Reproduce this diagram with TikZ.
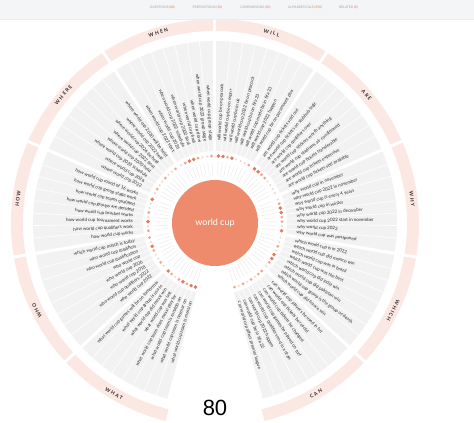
\documentclass[tikz,border=0pt]{standalone}
\usepackage{fontspec}
\setmainfont{Lato}
\newfontfamily\numfont{Liberation Sans}
\newfontfamily\labfont[LetterSpace=28]{Lato}
\definecolor{ringpink}{HTML}{FCE8E3}
\definecolor{wedgegray}{HTML}{F2F2F2}
\definecolor{hubcol}{HTML}{EE8B6C}
\definecolor{dotA}{HTML}{F8D3C7}
\definecolor{dotB}{HTML}{F1A690}
\definecolor{dotC}{HTML}{E57A5C}
\definecolor{qtext}{HTML}{2A2A2A}
\definecolor{hdrbg}{HTML}{F4F5F7}
\definecolor{hdrtext}{HTML}{A0A0A0}
\definecolor{hdrnum}{HTML}{E8795A}
\tikzset{
  qitem/.style={inner sep=0pt, font=\fontsize{4.5}{4.5}\selectfont, text=qtext},
  catlabel/.style={inner sep=0pt, font=\labfont\bfseries\fontsize{5}{5}\selectfont, text=qtext},
  hdritem/.style={inner sep=0pt, font=\fontsize{3.3}{3.3}\selectfont, text=hdrtext},
}
\begin{document}
\begin{tikzpicture}[x=1pt,y=1pt]
\useasboundingbox (-215,-200) rectangle (259,223);
\fill[white] (-215,-200) rectangle (259,223);
% outer pink ring
\fill[ringpink] (256:192) arc[start angle=256,end angle=-76,radius=192] -- (-76:204) arc[start angle=-76,end angle=256,radius=204] -- cycle;
% gray wedge area
\fill[wedgegray] (254.8:72) arc[start angle=254.8,end angle=-74.8,radius=72] -- (-74.8:182) arc[start angle=-74.8,end angle=254.8,radius=182] -- cycle;
% item separators
\foreach \n in {0,...,79}{
  \pgfmathtruncatemacro\c{\n/8}
  \pgfmathtruncatemacro\j{mod(\n,8)}
  \pgfmathsetmacro\ang{256-33.2*\c-2.95-3.9*\j}
  \pgfmathsetmacro\bnd{\ang+1.95}
  \ifnum\j>0 \draw[white,line width=0.6pt] (\bnd:72) -- (\bnd:182);\fi
  \draw[black!10,line width=0.3pt] (\ang:47) -- (\ang:61);
}
% category separators
\foreach \k in {1,...,9}{
  \pgfmathsetmacro\a{256-33.2*\k}
  \draw[white,line width=3pt] (\a:64) -- (\a:210);
}
% dots
\foreach \lv [count=\n from 0] in {3,3,2,3,2,1,2,3, 1,2,1,1,2,3,1,2, 2,1,3,1,2,1,1,3, 1,2,1,1,2,1,1,2, 1,2,3,3,2,1,1,2, 3,3,2,3,1,1,1,2, 3,3,2,2,1,1,1,1, 1,2,3,3,2,2,1,3, 1,1,2,1,3,3,2,1, 2,2,1,2,1,2,1,2}{
  \pgfmathtruncatemacro\c{\n/8}
  \pgfmathtruncatemacro\j{mod(\n,8)}
  \pgfmathsetmacro\ang{256-33.2*\c-2.95-3.9*\j}
  \pgfmathsetmacro\rad{0.75+0.4*\lv}
  \ifcase\lv\or \fill[dotA] (\ang:67) circle[radius=\rad];
  \or \fill[dotB] (\ang:67) circle[radius=\rad];
  \or \fill[dotC] (\ang:67) circle[radius=\rad];\fi
}
% question texts
\foreach \t [count=\n from 0] in {
 what world cup team is messi on, what world cup team is neymar on, what world cup team is ronaldo on, what world cup team does messi play for, what world cup was last, what world cup did messi win, what world cup group is usa in, what world cup games will be on tomorrow,
 who world cup 2022, who world cup qualifiers 2022, who world cup 2018, who world cup 2026, who world cup, who world cup qualification, who world cup qualifiers, which world cup match is today,
 how world cup works, how world cup qualifiers work, how world cup tournament works, how world cup bracket works, how world cup groups are decided, how world cup teams qualified, how world cup group stage work, how world cup round of 16 works,
 where world cup 2022, where world cup 2026, where world cup 2022 schedule, where world cup 2030 held, where world cup 2022 final, where world cup 2026 be held, where world cup 2022 held, where world cup 2030 will be held,
 when world cup 2022 start, when world cup 2026, when world cup 2022 schedule, when world cup 2022 final, when world cup final, when world cup draw, when world cup 2022 group stage, when world cup group stage,
 will world cup be on peacock, will world cup be on espn+, will world cup be in uk, will world cup 2022 be on peacock, will world cup be on fifa 23, will world cup mode be in fifa 23, will world cup 2022 happen, will world cup be on paramount plus,
 are world cup tickets sold out, are world cup tickets on stubhub legit, are world cup qualifiers over, are world cup stickers worth anything, are world cup stadiums air conditioned, are world cup tickets transferable, are world cup tickets expensive, are world cup tickets still available,
 why world cup in november, why world cup 2022 in november, why world cup is every 4 years, why world cup in winter, why world cup 2022 in december, why world cup 2022 start in november, why world cup 2022, why world cup was postponed,
 which world cup is in 2022, which world cup did mexico win, which world cup was in brazil, which world cup was the best, which world cup did india win, which world cup did pakistan win, which world cup group is the group of death, which world cup did france win,
 can world cup players be used in fut, can world cup tickets be resold, can world cup tickets be changed, can world cup games be played on turf, can world cup qualifiers end in a draw, can world cup 2022 happen, can world cup be in fifa 22, can world cup affect premier league}{
  \pgfmathtruncatemacro\c{\n/8}
  \pgfmathtruncatemacro\j{mod(\n,8)}
  \pgfmathsetmacro\ang{256-33.2*\c-2.95-3.9*\j}
  \ifdim\ang pt>90pt
    \pgfmathsetmacro\rot{\ang-180}
    \node[qitem, anchor=east, rotate=\rot] (q\n) at (\ang:82) {\t};
  \else
    \node[qitem, anchor=west, rotate=\ang] (q\n) at (\ang:82) {\t};
  \fi
}
% category labels
\foreach \lab [count=\k from 0] in {WHAT,WHO,HOW,WHERE,WHEN,WILL,ARE,WHY,WHICH,CAN}{
  \pgfmathsetmacro\mid{256-33.2*\k-16.6}
  \ifdim\mid pt>225pt
    \pgfmathsetmacro\rot{\mid+90}
  \else
    \ifdim\mid pt<-45pt
      \pgfmathsetmacro\rot{\mid+90}
    \else
      \pgfmathsetmacro\rot{\mid-90}
    \fi
  \fi
  \node[catlabel, rotate=\rot] (lab\k) at (\mid:198.5) {\lab};
}
% hub
\fill[hubcol] (0,0) circle[radius=43];
\node[inner sep=0pt, text=white, font=\fontsize{9}{9}\selectfont] (hub) at (0,0) {world cup};
% header bar
\fill[hdrbg] (-215,223) rectangle (259,204);
\draw[black!8,line width=0.4pt] (-215,204) -- (259,204);
\node[hdritem] (h1) at (-52.5,215.7) {QUESTIONS \textcolor{hdrnum}{(80)}};
\node[hdritem] (h2) at (-7.5,215.7) {PREPOSITIONS \textcolor{hdrnum}{(56)}};
\node[hdritem] (h3) at (40.5,215.7) {COMPARISONS \textcolor{hdrnum}{(40)}};
\node[hdritem] (h4) at (90,215.7) {ALPHABETICALS \textcolor{hdrnum}{(298)}};
\node[hdritem] (h5) at (133.5,215.7) {RELATED \textcolor{hdrnum}{(8)}};
% count
\node[inner sep=0pt, font=\numfont\fontsize{22}{22}\selectfont] (count) at (0,-185) {80};
\end{tikzpicture}
\end{document}
